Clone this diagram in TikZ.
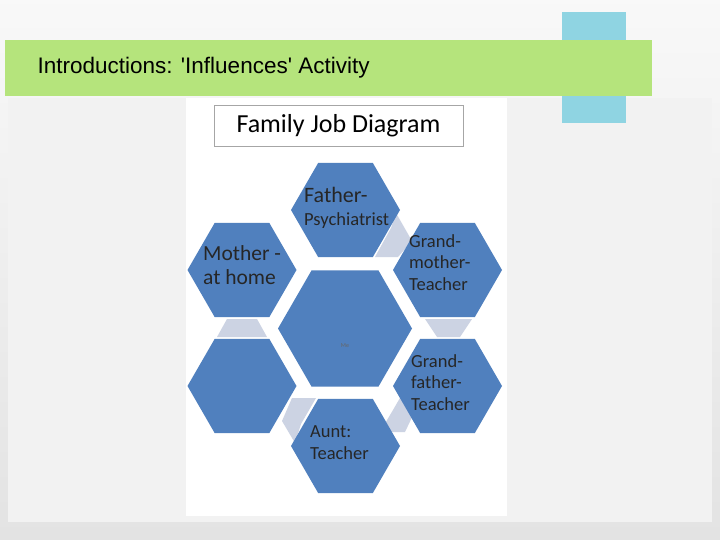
\documentclass[tikz,border=0pt]{standalone}
\usepackage{fontspec}
\setmainfont{Carlito}
\newfontfamily\arialf{Liberation Sans}
\usetikzlibrary{shapes.geometric}
\definecolor{hexblue}{HTML}{5080BE}
\definecolor{linkgray}{HTML}{CCD3E3}
\definecolor{barGreen}{HTML}{B5E47C}
\definecolor{tabCyan}{HTML}{8FD4E2}
\tikzset{
  hexnode/.style={regular polygon, regular polygon sides=6, shape border rotate=0, fill=hexblue, draw=none, inner sep=0pt},
  link/.style={fill=linkgray, draw=none},
  lbl/.style={anchor=north west, align=left, font=\fontsize{18}{21}\selectfont, text=black!85, inner sep=0pt}
}
\begin{document}
\begin{tikzpicture}[x=1pt,y=-1pt]
\useasboundingbox (0,0) rectangle (720,540);
\shade[top color=white!95!gray, bottom color=gray!22] (0,0) rectangle (720,540);
\fill[white!90!gray] (8,98) rectangle (712,522);
\node[fill=tabCyan, minimum width=64pt, minimum height=111pt, inner sep=0pt, draw=none] (tab) at (594,67.5) {};
\node[fill=barGreen, minimum width=647pt, minimum height=56pt, inner sep=0pt, draw=none] (bar) at (328.5,68) {};
\node[anchor=west, font=\arialf\fontsize{22.5}{26}\selectfont] (title) at (34,68) {Introductions: 'Influences' Activity};
\node[fill=white, minimum width=321pt, minimum height=418pt, inner sep=0pt] (panel) at (346.5,307) {};
\node[draw=gray!70, fill=white, minimum width=249pt, minimum height=41pt, inner sep=0pt, font=\fontsize{26}{28}\selectfont] (fjd) at (338.5,125.5) {Family Job Diagram};
% links
\fill[link] (396,213) -- (412,241) -- (398,257) -- (375,257) -- (391,228) -- cycle;
\fill[link] (227,319) -- (257,319) -- (267,337) -- (217,337) -- cycle;
\fill[link] (425,319) -- (472,319) -- (460,337) -- (437,337) -- cycle;
\fill[link] (292,398) -- (316,398) -- (301,424) -- (295,443) -- (282,421) -- cycle;
\fill[link] (404,391) -- (415,411) -- (405,432) -- (380,432) -- (393,410) -- cycle;
% hexagons
\node[hexnode, minimum size=109pt] (father) at (345.5,210) {};
\node[hexnode, minimum size=109pt] (mother) at (242,270) {};
\node[hexnode, minimum size=109pt] (gm) at (447.5,270) {};
\node[hexnode, minimum size=134pt] (me) at (345,328.5) {};
\node[hexnode, minimum size=109pt] (blank) at (242,386) {};
\node[hexnode, minimum size=109pt] (gf) at (447.5,386) {};
\node[hexnode, minimum size=109pt] (aunt) at (345.5,446) {};
% labels
\node[lbl, font=\fontsize{22}{24}\selectfont] (tf) at (304,187) {Father-};
\node[lbl, font=\fontsize{18.5}{21}\selectfont] (tf2) at (304,212) {Psychiatrist};
\node[lbl, font=\fontsize{21.5}{24.5}\selectfont] (tm) at (203,245) {Mother -\\at home};
\node[lbl, font=\fontsize{18.5}{21.5}\selectfont] (tgm) at (409,234) {Grand-\\mother-\\Teacher};
\node[font=\fontsize{6}{7}\selectfont, text=black!60] (tme) at (345,346) {Me};
\node[lbl, font=\fontsize{18.5}{21.5}\selectfont] (tgf) at (411,354) {Grand-\\father-\\Teacher};
\node[lbl, font=\fontsize{18.5}{22}\selectfont] (ta) at (310,425) {Aunt:\\Teacher};
\end{tikzpicture}
\end{document}
